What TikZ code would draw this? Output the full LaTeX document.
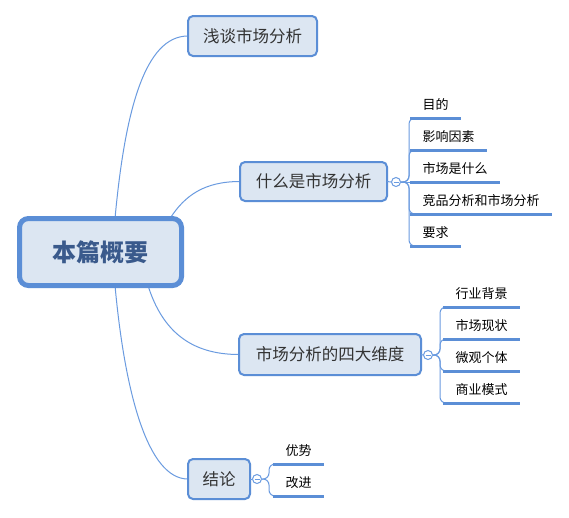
\documentclass[tikz,border=0pt]{standalone}
\usepackage{fontspec}
\newfontfamily\cjk{Noto Sans CJK SC}
\usetikzlibrary{backgrounds}
\definecolor{bord}{HTML}{5B8ED6}
\definecolor{boxfill}{HTML}{DCE6F2}
\definecolor{conncol}{HTML}{6A9BE0}
\definecolor{roottext}{HTML}{3A5A8C}
\definecolor{maintext}{HTML}{333333}
\begin{document}
\begin{tikzpicture}[x=1pt,y=-1pt,
 rootbox/.style={draw=bord, fill=boxfill, line width=5pt, rounded corners=9pt, inner sep=0pt, outer sep=0pt, font=\cjk\bfseries\fontsize{24}{28}\selectfont, text=roottext},
 mainbox/.style={draw=bord, fill=boxfill, line width=2pt, rounded corners=5pt, inner sep=0pt, outer sep=0pt, font=\cjk\fontsize{16.5}{20}\selectfont, text=maintext, minimum height=40pt},
 leaf/.style={anchor=south west, inner xsep=12.5pt, inner ysep=0pt, minimum height=26pt, font=\cjk\fontsize{13}{16}\selectfont, text=black},
 uline/.style={draw=bord, line width=3pt},
 link/.style={draw=conncol, line width=1pt},
 branch/.style={draw=conncol, line width=1pt, rounded corners=6pt},
 toggle/.style={circle, draw=conncol, line width=1pt, fill=white, minimum size=9pt, inner sep=0pt}
]
\useasboundingbox (0,0) rectangle (569,517);

% main nodes
\node[rootbox, minimum width=162pt, minimum height=67pt] (root) at (100.5,252) {本篇概要};
\node[mainbox, minimum width=129pt] (n1) at (252.5,36) {浅谈市场分析};
\node[mainbox, minimum width=147pt, minimum height=39pt] (n2) at (313.5,181.5) {什么是市场分析};
\node[mainbox, minimum width=182pt, minimum height=41pt] (n3) at (330,354.5) {市场分析的四大维度};
\node[mainbox, minimum width=62pt] (n4) at (219,479) {结论};

% background and root connectors
\begin{scope}[on background layer]
\fill[white] (0,0) rectangle (569,517);
\draw[link] ([xshift=14.5pt]root.north) .. controls (125,110) and (145,36) .. (n1.west);
\draw[link] ([xshift=69.5pt]root.north) .. controls (185,195) and (205,181.5) .. (n2.west);
\draw[link] ([xshift=47.5pt]root.south) .. controls (162,330) and (190,354.5) .. (n3.west);
\draw[link] ([xshift=14.5pt]root.south) .. controls (125,394) and (148,479) .. (n4.west);
\end{scope}

% toggles
\node[toggle] (c2) at (396,182) {};
\node[toggle] (c3) at (428,355) {};
\node[toggle] (c4) at (257,479) {};
\foreach \c in {c2,c3,c4}{
  \draw[conncol, line width=0.8pt] ([xshift=-2.5pt]\c.center) -- ([xshift=2.5pt]\c.center);
}
\draw[link] (n2.east) -- (c2.west);
\draw[link] (n3.east) -- (c3.west);
\draw[link] (n4.east) -- (c4.west);

% children of n2
\node[leaf] (a1) at (410,118) {目的};
\node[leaf] (a2) at (410,150) {影响因素};
\node[leaf] (a3) at (410,182) {市场是什么};
\node[leaf] (a4) at (410,214) {竞品分析和市场分析};
\node[leaf] (a5) at (410,246) {要求};
\foreach \k in {a1,a2,a4,a5}{
  \draw[branch] (c2.east) -- ++(8,0) |- ([xshift=2pt]\k.south west);
}
\draw[link] (c2.east) -- (a3.south west);
\foreach \k in {a1,a2,a3,a4,a5}{
  \draw[uline] (\k.south west) -- (\k.south east);
}

% children of n3
\node[leaf] (b1) at (443,307) {行业背景};
\node[leaf] (b2) at (443,339) {市场现状};
\node[leaf] (b3) at (443,371) {微观个体};
\node[leaf] (b4) at (443,403) {商业模式};
\foreach \k in {b1,b2,b3,b4}{
  \draw[branch] (c3.east) -- ++(7,0) |- ([xshift=2pt]\k.south west);
  \draw[uline] (\k.south west) -- (\k.south east);
}

% children of n4
\node[leaf] (d1) at (273,464) {优势};
\node[leaf] (d2) at (273,496) {改进};
\foreach \k in {d1,d2}{
  \draw[branch] (c4.east) -- ++(7,0) |- ([xshift=2pt]\k.south west);
  \draw[uline] (\k.south west) -- (\k.south east);
}
\end{tikzpicture}
\end{document}
